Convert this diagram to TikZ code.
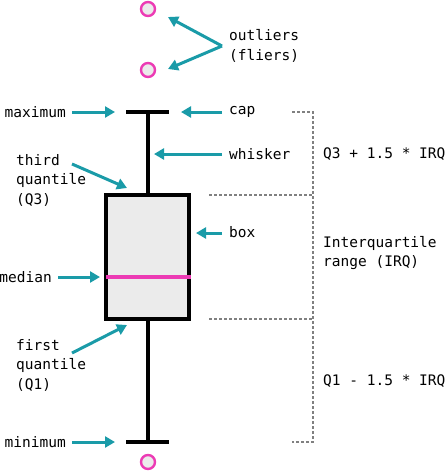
\documentclass[tikz,border=0pt]{standalone}
\usepackage{fontspec}
\setmonofont{DejaVu Sans Mono}
\usetikzlibrary{arrows.meta}
\definecolor{teal1}{HTML}{1A9BA8}
\definecolor{pink1}{HTML}{EC3BB4}
\definecolor{boxgray}{HTML}{EBEBEB}
\begin{document}
\begin{tikzpicture}[x=1pt, y=-1pt, >={Triangle[length=10pt,width=11pt]},
  lbl/.style={font=\ttfamily\fontsize{14.5}{19.5}\selectfont, inner sep=0pt, anchor=west, align=left},
  ptr/.style={->, teal1, line width=3pt},
  flier/.style={circle, draw=pink1, fill=boxgray, line width=2.4pt, minimum size=14pt, inner sep=0pt},
  guide/.style={gray, dash pattern=on 3pt off 2pt, line width=1.3pt}]
\useasboundingbox (0,0) rectangle (447,472);

% the box plot
\draw[line width=3.2pt, fill=boxgray] (106,195) rectangle (189,319);
\draw[line width=3.2pt] (126,112)--(169,112) (148,112)--(148,195);
\draw[line width=3.2pt] (126,442)--(169,442) (148,319)--(148,442);
\draw[pink1, line width=4.5pt] (106,277)--(191,277);
\node[flier] (f1) at (148,9) {};
\node[flier] (f2) at (148,70) {};
\node[flier] (f3) at (148,462) {};

% dashed guides
\draw[guide] (292,112)--(313,112)--(313,442)--(292,442);
\foreach \y in {195,319}
{
    \draw[guide] (209,\y)--(313,\y);
}

% labels
\node[lbl] (outl) at (229,46) {outliers\\(fliers)};
\node[lbl, anchor=east] (max) at (66,112) {maximum};
\node[lbl] (cap) at (229,112) {cap};
\node[lbl] (whis) at (229,154) {whisker};
\node[lbl] (q3) at (16,180) {third\\quantile\\(Q3)};
\node[lbl] (box) at (229,232) {box};
\node[lbl, anchor=east] (med) at (52,277) {median};
\node[lbl] (q1) at (16,365) {first\\quantile\\(Q1)};
\node[lbl, anchor=east] (min) at (66,442) {minimum};
\node[lbl] (upper) at (323,154) {Q3 + 1.5 * IRQ};
\node[lbl] (iqr) at (323,253) {Interquartile\\range (IRQ)};
\node[lbl] (lower) at (323,381) {Q1 - 1.5 * IRQ};

% pointers
\coordinate (f1p) at (168,17);
\coordinate (f2p) at (168,69);
\coordinate (maxp) at (115,112);
\coordinate (capp) at (181,112);
\coordinate (whisp) at (154,154);
\coordinate (q3p) at (127,188);
\coordinate (boxp) at (196,233);
\coordinate (medp) at (100,277);
\coordinate (q1p) at (127,325);
\coordinate (minp) at (115,442);
\draw[ptr] (222,46) -- (f1p);
\draw[ptr] (222,46) -- (f2p);
\draw[ptr] (max.east)+(6,0) -- (maxp);
\draw[ptr] (cap.west)+(-7,0) -- (capp);
\draw[ptr] (whis.west)+(-7,0) -- (whisp);
\draw[ptr] (72,164) -- (q3p);
\draw[ptr] (box.west)+(-7,1) -- (boxp);
\draw[ptr] (med.east)+(6,0) -- (medp);
\draw[ptr] (72,353) -- (q1p);
\draw[ptr] (min.east)+(6,0) -- (minp);

\end{tikzpicture}
\end{document}
